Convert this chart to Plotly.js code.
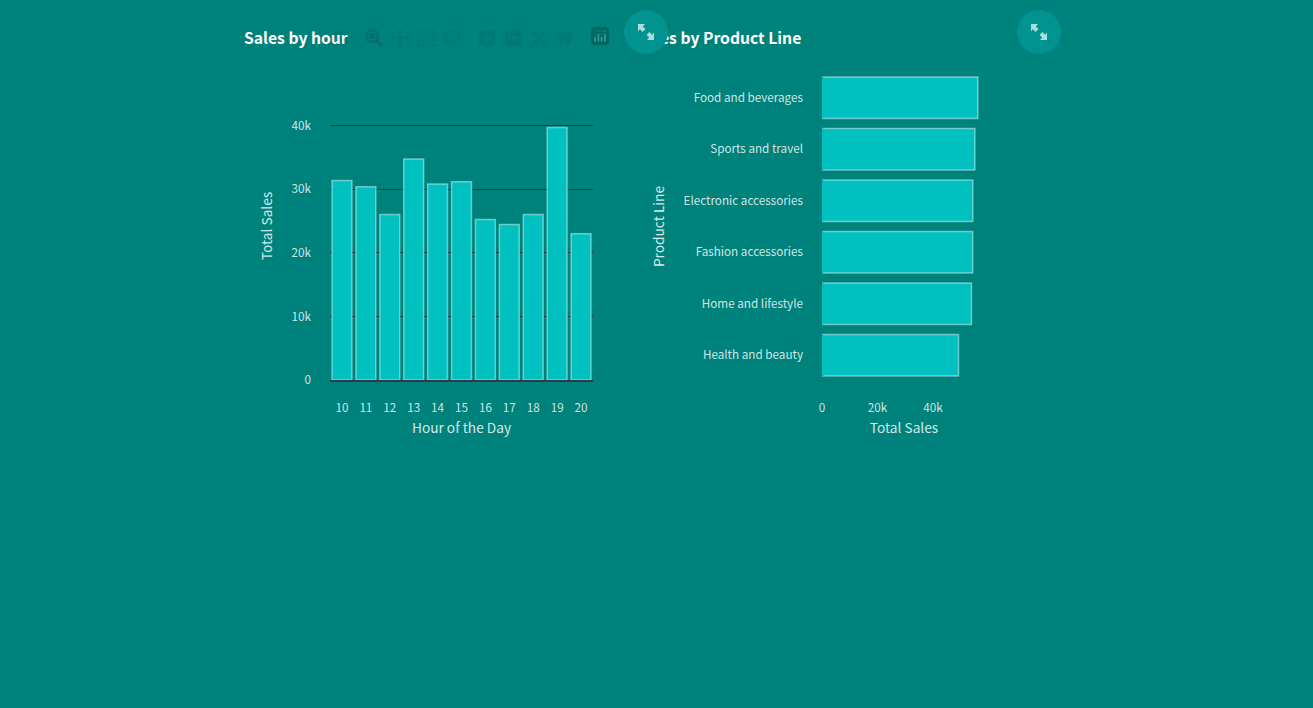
<!DOCTYPE html>
<html><head><meta charset="utf-8">
<script src="https://cdn.plot.ly/plotly-3.0.1.min.js"></script>
<style>
html,body{margin:0;padding:0;width:1313px;height:708px;overflow:hidden;background:#00827C}
.chart{position:absolute;top:16px;width:393px;height:435px}
#expand{position:absolute;left:0;top:0;pointer-events:none}
.js-plotly-plot .plotly .modebar{opacity:1 !important;top:9px !important;right:14px !important}
.js-plotly-plot .plotly .modebar-btn{font-size:18px !important;padding:3px 4px !important}
.js-plotly-plot .plotly .modebar-group{padding-left:9px !important}
.js-plotly-plot .plotly .modebar-btn--logo{opacity:0.2}
</style></head><body>
<div id="hourChart" class="chart" style="left:234px"></div>
<div id="lineChart" class="chart" style="left:621px"></div>
<svg id="expand" width="1313" height="708">
  <g id="b1" transform="translate(646,32)"></g>
  <g id="b2" transform="translate(1039,32)"></g>
</svg>
<script>
const hours = ["10","11","12","13","14","15","16","17","18","19","20"];
const hourSales = [31400,30400,26050,34750,30850,31200,25250,24450,26050,39700,23000];
const productLines = ["Health and beauty","Home and lifestyle","Fashion accessories","Electronic accessories","Sports and travel","Food and beverages"];
const lineSales = [49200,53850,54300,54350,55100,56150];
const fontFamily = '"Noto Sans CJK SC","Noto Sans",sans-serif';
const teal = '#00827C', barFill = '#00c0c0', barEdge = 'rgba(215,245,245,0.5)';
const txt = 'rgba(255,255,255,0.82)';
const tickSize = 11.7, titleSize = 13.7;

function base(title, m, padL){
  return {
    width:393, height:435, paper_bgcolor:teal, plot_bgcolor:teal,
    font:{family:fontFamily,size:tickSize,color:txt},
    title:{text:'<b>'+title+'</b>',x:0,xref:'container',xanchor:'left',yref:'container',y:0.949,yanchor:'middle',
           pad:{l:padL},font:{family:fontFamily,size:15.7,color:'#ffffff'}},
    margin:m, showlegend:false, bargap:0.17,
    modebar:{bgcolor:'rgba(0,0,0,0)',color:'rgba(0,0,0,0.07)',activecolor:'rgba(0,0,0,0.13)',orientation:'h'}
  };
}

const l1 = base('Sales by hour',{l:95.5,r:34,t:56,b:71},10);
l1.xaxis = {type:'category',categoryorder:'array',categoryarray:hours,showgrid:false,zeroline:false,ticks:'',
  showline:true,linecolor:'#333844',linewidth:1.5,
  ticklabelstandoff:16,tickfont:{size:tickSize},automargin:false,title:{text:'Hour of the Day',font:{size:titleSize},standoff:10}};
l1.yaxis = {range:[0,48450],tickvals:[0,10000,20000,30000,40000],ticktext:['0','10k','20k','30k','40k'],
  gridcolor:'#303540',gridwidth:1,zeroline:false,ticks:'',automargin:false,
  ticklabelstandoff:18,tickfont:{size:tickSize},title:{text:'Total Sales',font:{size:titleSize},standoff:15}};
Plotly.newPlot('hourChart',[{type:'bar',x:hours,y:hourSales,marker:{color:barFill,line:{color:barEdge,width:1.5}}}],l1,{displayModeBar:true});

const l2 = base('Sales by Product Line',{l:201,r:28,t:56,b:70},15);
l2.bargap = 0.19;
l2.xaxis = {range:[0,59100],tickvals:[0,20000,40000],ticktext:['0','20k','40k'],showgrid:false,zeroline:false,ticks:'',
  ticklabelstandoff:18,tickfont:{size:tickSize},title:{text:'Total Sales',font:{size:titleSize},standoff:9}};
l2.yaxis = {type:'category',categoryorder:'array',categoryarray:productLines,showgrid:false,zeroline:false,ticks:'',
  ticklabelstandoff:18,tickfont:{size:tickSize},title:{text:'Product Line',font:{size:titleSize},standoff:15}};
l2.shapes = productLines.map((p,i)=>({type:'rect',layer:'above',xref:'x',yref:'y',xsizemode:'pixel',xanchor:0,x0:0,x1:1.5,
  y0:i-0.405,y1:i+0.405,fillcolor:barFill,line:{width:0}}));
Plotly.newPlot('lineChart',[{type:'bar',orientation:'h',x:lineSales,y:productLines,marker:{color:barFill,line:{color:barEdge,width:1.5}}}],l2,{displayModeBar:false});

const btn = '<circle r="22" fill="#009390"/>'+
 '<g fill="rgba(255,255,255,0.68)" transform="translate(0.5,1)"><path d="M-8.5,-9 L-1.5,-9 L-3.7,-6.6 L-1,-4 L-4,-1 L-6.6,-3.7 L-8.5,-1.5 Z"/>'+
 '<path d="M7.5,7 L0.5,7 L2.7,4.6 L0,2 L3,-1 L5.6,1.7 L7.5,-0.5 Z"/></g>';
document.getElementById('b1').innerHTML = btn;
document.getElementById('b2').innerHTML = btn;
</script></body></html>
